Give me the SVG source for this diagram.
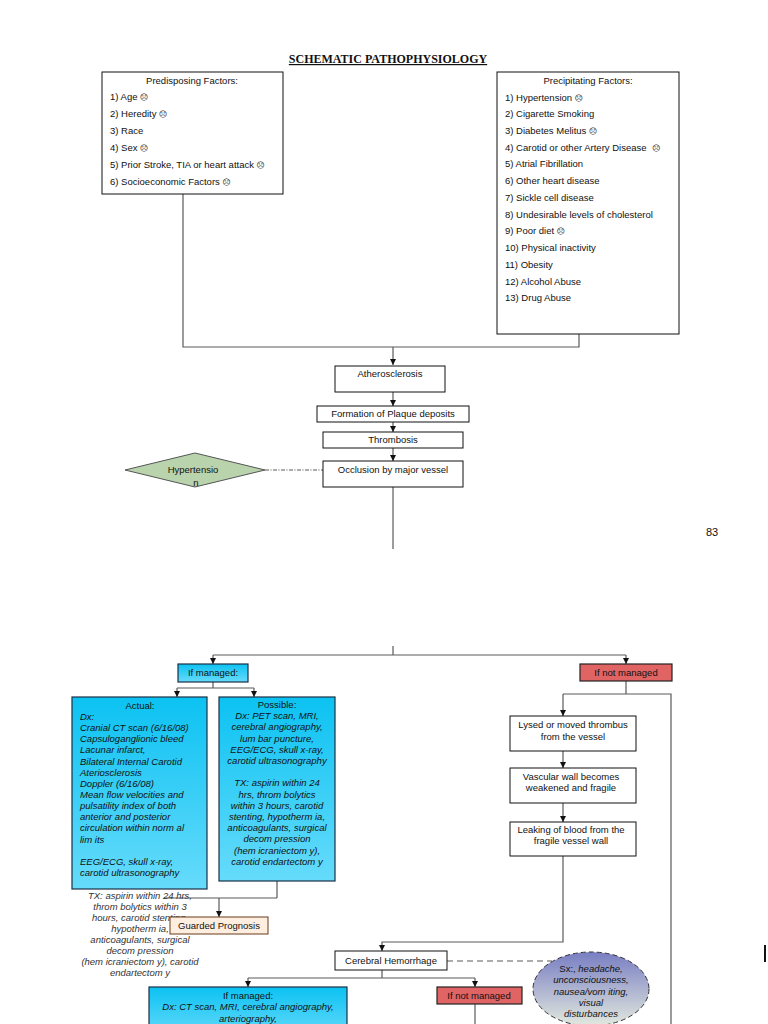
<svg xmlns="http://www.w3.org/2000/svg" width="768" height="1024" viewBox="0 0 768 1024">
<defs>
<marker id="arr" markerUnits="userSpaceOnUse" markerWidth="6" markerHeight="6" refX="6" refY="3" orient="auto">
<path d="M0,0 L6,3 L0,6 z" fill="#111"/>
</marker>
<linearGradient id="cyan" x1="0" y1="0" x2="0" y2="1">
<stop offset="0" stop-color="#0cc2f2"/>
<stop offset="1" stop-color="#66dbfb"/>
</linearGradient>
<linearGradient id="oval" x1="0" y1="0" x2="0" y2="1">
<stop offset="0" stop-color="#787ec2"/>
<stop offset="1" stop-color="#e2e8de"/>
</linearGradient>
<style>
text{font-family:"Liberation Sans",Arial,sans-serif;font-size:9.5px;fill:#111}
.c{text-anchor:middle}
.i{font-style:italic}
.sym{font-family:"DejaVu Sans",sans-serif;font-size:8px}
.box{fill:#fff;stroke:#111;stroke-width:1}
.cy{fill:url(#cyan);stroke:#1b2f45;stroke-width:1.2}
.red{fill:#e06464;stroke:#222;stroke-width:1.2}
.ln{fill:none;stroke:#5a5a5a;stroke-width:1.2}
.ar{fill:none;stroke:#5a5a5a;stroke-width:1.2;marker-end:url(#arr)}
.ttl{font-family:"Liberation Serif","Times New Roman",serif;font-weight:bold;font-size:12px;text-decoration:underline}
</style>
</defs>
<rect width="768" height="1024" fill="#fff"/>

<text class="ttl c" x="388" y="63">SCHEMATIC PATHOPHYSIOLOGY</text>
<text x="712" y="536" class="c" style="font-size:11px">83</text>
<rect x="764" y="945" width="2" height="17" fill="#111"/>

<g id="connectors">
<path class="ln" d="M183,194 V347 H579 V334"/>
<path class="ar" d="M393,347 V365"/>
<path class="ar" d="M393,392 V406"/>
<path class="ar" d="M393,422 V432"/>
<path class="ar" d="M393,448 V461"/>
<path class="ln" d="M265,470 H323" stroke-dasharray="4,1.5,1,1.5"/>
<path class="ln" d="M393,487 V549"/>
<path class="ln" d="M393,646 V655"/>
<path class="ln" d="M213,655 H626"/>
<path class="ar" d="M213,655 V664"/>
<path class="ar" d="M626,655 V664"/>
<path class="ln" d="M213,682 V688 M177,688 H254"/>
<path class="ar" d="M177,688 V697"/>
<path class="ar" d="M254,688 V697"/>
<path class="ln" d="M277,881 V898 M164,898 H277"/>
<path class="ar" d="M219,898 V917"/>
<path class="ln" d="M626,681 V694 M563,694 H671 V1024"/>
<path class="ar" d="M563,694 V716"/>
<path class="ar" d="M563,751 V768"/>
<path class="ar" d="M563,803 V822"/>
<path class="ar" d="M563,856 V942 H382 V951"/>
<path class="ln" d="M447,961 H552" stroke-dasharray="6,4"/>
<path class="ln" d="M382,970 V978 M248,978 H475"/>
<path class="ar" d="M248,978 V987"/>
<path class="ar" d="M475,978 V987"/>
<path class="ln" d="M475,1004 V1024"/>
</g>

<g id="predisposing">
<rect class="box" x="102" y="72" width="181" height="122"/>
<text class="c" x="192" y="84">Predisposing Factors:</text>
<text x="110" y="100">1) Age <tspan class="sym">☹</tspan></text>
<text x="110" y="117">2) Heredity <tspan class="sym">☹</tspan></text>
<text x="110" y="134">3) Race</text>
<text x="110" y="151">4) Sex <tspan class="sym">☹</tspan></text>
<text x="110" y="168">5) Prior Stroke, TIA or heart attack <tspan class="sym">☹</tspan></text>
<text x="110" y="185">6) Socioeconomic Factors <tspan class="sym">☹</tspan></text>
</g>

<g id="precipitating">
<rect class="box" x="497" y="72" width="182" height="262"/>
<text class="c" x="588" y="84">Precipitating Factors:</text>
<text x="505" y="101">1) Hypertension <tspan class="sym">☹</tspan></text>
<text x="505" y="117">2) Cigarette Smoking</text>
<text x="505" y="134">3) Diabetes Melitus <tspan class="sym">☹</tspan></text>
<text x="505" y="151">4) Carotid or other Artery Disease <tspan class="sym" dx="3">☹</tspan></text>
<text x="505" y="167">5) Atrial Fibrillation</text>
<text x="505" y="184">6) Other heart disease</text>
<text x="505" y="201">7) Sickle cell disease</text>
<text x="505" y="218">8) Undesirable levels of cholesterol</text>
<text x="505" y="234">9) Poor diet <tspan class="sym">☹</tspan></text>
<text x="505" y="251">10) Physical inactivity</text>
<text x="505" y="268">11) Obesity</text>
<text x="505" y="285">12) Alcohol Abuse</text>
<text x="505" y="301">13) Drug Abuse</text>
</g>

<g id="atherosclerosis">
<rect class="box" x="335" y="366" width="110" height="26"/>
<text class="c" x="390" y="377">Atherosclerosis</text>
</g>
<g id="plaque">
<rect class="box" x="317" y="406" width="152" height="16"/>
<text class="c" x="393" y="417">Formation of Plaque deposits</text>
</g>
<g id="thrombosis">
<rect class="box" x="323" y="432" width="140" height="16"/>
<text class="c" x="393" y="443">Thrombosis</text>
</g>
<g id="occlusion">
<rect class="box" x="323" y="461" width="140" height="26"/>
<text class="c" x="393" y="473">Occlusion by major vessel</text>
</g>
<g id="hypertension">
<polygon points="125,470 195,453 265,470 195,487" fill="#b9d3ad" stroke="#555" stroke-width="1"/>
<text class="c" x="193" y="473">Hypertensio</text>
<text class="c" x="196" y="486">n</text>
</g>

<g id="if-managed">
<rect class="cy" x="178" y="664" width="70" height="18"/>
<text class="c" x="213" y="676">If managed:</text>
</g>
<g id="if-not-managed">
<rect class="red" x="580" y="664" width="92" height="17"/>
<text class="c" x="626" y="676">If not managed</text>
</g>

<g id="actual">
<rect class="cy" x="72" y="697" width="135" height="192"/>
<text class="c" x="140" y="709">Actual:</text>
<g class="i">
<text class="i" x="80" y="720">Dx:</text>
<text class="i" x="80" y="731">Cranial CT scan (6/16/08)</text>
<text class="i" x="80" y="742">Capsuloganglionic bleed</text>
<text class="i" x="80" y="753">Lacunar infarct,</text>
<text class="i" x="80" y="765">Bilateral Internal Carotid</text>
<text class="i" x="80" y="776">Ateriosclerosis</text>
<text class="i" x="80" y="787">Doppler (6/16/08)</text>
<text class="i" x="80" y="798">Mean flow velocities and</text>
<text class="i" x="80" y="809">pulsatility index of both</text>
<text class="i" x="80" y="820">anterior and posterior</text>
<text class="i" x="80" y="831">circulation within norm al</text>
<text class="i" x="80" y="843">lim its</text>
<text class="i" x="80" y="865">EEG/ECG, skull x-ray,</text>
<text class="i" x="80" y="876">carotid ultrasonography</text>
</g>
</g>

<g id="possible">
<rect class="cy" x="219" y="697" width="116" height="184"/>
<text class="c" x="277" y="708">Possible:</text>
<text class="c i" x="277" y="719">Dx: PET scan, MRI,</text>
<text class="c i" x="277" y="730">cerebral angiography,</text>
<text class="c i" x="277" y="742">lum bar puncture,</text>
<text class="c i" x="277" y="753">EEG/ECG, skull x-ray,</text>
<text class="c i" x="277" y="764">carotid ultrasonography</text>
<text class="c i" x="277" y="786">TX: aspirin within 24</text>
<text class="c i" x="277" y="798">hrs, throm bolytics</text>
<text class="c i" x="277" y="809">within 3 hours, carotid</text>
<text class="c i" x="277" y="820">stenting, hypotherm ia,</text>
<text class="c i" x="277" y="831">anticoagulants, surgical</text>
<text class="c i" x="277" y="842">decom pression</text>
<text class="c i" x="277" y="854">(hem icraniectom y),</text>
<text class="c i" x="277" y="865">carotid endartectom y</text>
</g>

<g id="tx-actual">
<text class="c i" x="140" y="899" style="fill:#333">TX: aspirin within 24 hrs,</text>
<text class="c i" x="140" y="910" style="fill:#333">throm bolytics within 3</text>
<text class="c i" x="140" y="921" style="fill:#333">hours, carotid stenting,</text>
<text class="c i" x="140" y="932" style="fill:#333">hypotherm ia,</text>
<text class="c i" x="140" y="943" style="fill:#333">anticoagulants, surgical</text>
<text class="c i" x="140" y="954" style="fill:#333">decom pression</text>
<text class="c i" x="140" y="965" style="fill:#333">(hem icraniectom y), carotid</text>
<text class="c i" x="140" y="976" style="fill:#333">endartectom y</text>
</g>

<g id="guarded">
<rect x="170" y="917" width="98" height="17" fill="#fdeee0" stroke="#6b3a1a" stroke-width="1"/>
<text class="c" x="219" y="929">Guarded Prognosis</text>
</g>

<g id="lysed">
<rect class="box" x="510" y="716" width="126" height="35"/>
<text class="c" x="573" y="728">Lysed or moved thrombus</text>
<text class="c" x="573" y="740">from the vessel</text>
</g>
<g id="vascular">
<rect class="box" x="510" y="768" width="126" height="35"/>
<text class="c" x="571" y="780">Vascular wall becomes</text>
<text class="c" x="571" y="791">weakened and fragile</text>
</g>
<g id="leaking">
<rect class="box" x="510" y="822" width="126" height="34"/>
<text class="c" x="571" y="833">Leaking of blood from the</text>
<text class="c" x="571" y="844">fragile vessel wall</text>
</g>

<g id="cerebral-hemorrhage">
<rect class="box" x="335" y="951" width="112" height="19"/>
<text class="c" x="391" y="964">Cerebral Hemorrhage</text>
</g>

<g id="symptoms">
<ellipse cx="591" cy="989" rx="58" ry="37" fill="url(#oval)" stroke="#333" stroke-width="1" stroke-dasharray="5,3"/>
<text class="c" x="591" y="972">Sx:, <tspan class="i">headache,</tspan></text>
<text class="c i" x="591" y="983">unconsciousness,</text>
<text class="c i" x="591" y="995">nausea/vom iting,</text>
<text class="c i" x="591" y="1006">visual</text>
<text class="c i" x="591" y="1017">disturbances</text>
</g>

<g id="if-managed-2">
<rect class="cy" x="149" y="987" width="198" height="50"/>
<text class="c" x="248" y="999">If managed:</text>
<text class="c i" x="248" y="1010">Dx: CT scan, MRI, cerebral angiography,</text>
<text class="c i" x="248" y="1022">arteriography,</text>
</g>

<g id="if-not-managed-2">
<rect class="red" x="437" y="987" width="85" height="17"/>
<text class="c" x="479" y="999">If not managed</text>
</g>
</svg>
